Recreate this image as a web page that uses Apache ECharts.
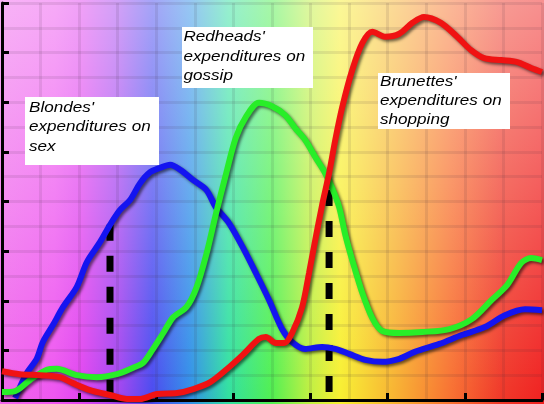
<!DOCTYPE html>
<html><head><meta charset="utf-8">
<script src="https://cdn.jsdelivr.net/npm/echarts@6/dist/echarts.min.js"></script>
<style>html,body{margin:0;padding:0;background:#fff}#c{width:544px;height:404px}</style>
</head><body><div id="c"></div>
<script>
// axis ranges (unlabelled ticks)
const xTicks = [0, 10, 20, 30, 40, 50, 60, 70];
const yTicks = [0, 10, 20, 30, 40, 50, 60, 70, 80];

// Blondes' expenditures on sex (blue)
const blondesSex = [
  [1.7,0.4],[3.2,5.4],[4.5,8.3],[5.3,11.7],[6.6,15.1],[7.9,18.7],[9.7,22.8],[11.0,27.8],
  [12.7,31.8],[14.0,35.3],[15.3,38.3],[16.6,40.3],[17.9,43.7],[19.2,45.9],[20.5,46.8],
  [21.8,47.4],[23.1,46.4],[24.8,44.3],[26.5,42.3],[27.7,38.9],[29.4,35.7],[31.2,30.8],
  [32.9,25.6],[34.6,20.2],[36.3,14.3],[37.6,11.7],[39.3,10.3],[41.5,10.7],[43.2,10.3],
  [45.0,9.3],[47.1,8.1],[49.3,7.7],[51.5,8.3],[53.5,9.7],[56.7,11.3],[59.6,13.1],
  [62.6,14.7],[65.2,17.1],[67.8,18.3],[70.0,18.1]
];
// Redheads' expenditures on gossip (green)
const redheadsGossip = [
  [0.0,1.6],[1.7,1.8],[3.6,4.0],[5.8,6.1],[7.1,6.3],[9.7,5.0],[12.3,4.6],[14.9,5.2],
  [17.0,6.5],[18.3,7.5],[19.5,10.1],[20.9,13.5],[22.2,16.7],[23.9,18.7],[25.2,22.6],
  [26.5,29.4],[27.7,37.3],[29.0,45.3],[30.3,52.8],[31.6,57.0],[33.3,59.9],[35.0,59.2],
  [36.7,57.4],[38.0,54.8],[39.3,52.4],[40.6,49.0],[41.9,45.7],[42.8,42.7],[43.7,38.9],
  [44.5,33.3],[45.4,28.2],[46.7,21.6],[48.0,16.5],[49.3,13.9],[51.5,13.5],[54.5,13.7],
  [58.0,14.3],[60.9,16.3],[63.5,20.2],[65.5,23.2],[67.3,27.6],[68.6,28.6],[70.0,28.2]
];
// Brunettes' expenditures on shopping (red)
const brunettesShopping = [
  [0.0,5.8],[2.3,5.2],[4.9,5.0],[7.5,4.6],[9.2,3.4],[11.4,2.0],[14.0,1.0],[16.2,0.2],
  [17.9,0.2],[20.1,1.2],[22.7,1.4],[24.8,2.2],[27.0,3.6],[29.2,6.3],[31.2,9.1],
  [33.3,12.3],[34.2,12.7],[35.5,11.5],[36.6,11.5],[37.6,13.5],[38.9,18.7],[39.8,25.6],
  [40.6,32.2],[41.5,39.3],[42.4,45.7],[43.2,52.4],[44.1,59.0],[45.4,66.5],[46.7,71.9],
  [48.0,74.2],[49.7,73.2],[51.5,73.8],[53.2,76.0],[54.7,77.2],[56.9,76.0],[59.0,73.2],
  [60.8,70.5],[62.5,68.9],[64.7,68.5],[66.8,68.1],[68.6,66.9],[70.0,66.1]
];
// dashed drop lines: x position and top value
const dropX = [14.0, 42.4];
const dropTop = [35.3, 42.3];

const labelTexts = [
  "Blondes'\nexpenditures on\nsex",
  "Redheads'\nexpenditures on\ngossip",
  "Brunettes'\nexpenditures on\nshopping"
];

const chart = echarts.init(document.getElementById('c'), null, {renderer: 'canvas'});

const rainbow = new echarts.graphic.LinearGradient(0, 0, 1, 0, [
  {offset: 0.00, color: '#f066ec'},
  {offset: 0.10, color: '#ee55f0'},
  {offset: 0.15, color: '#e044f0'},
  {offset: 0.22, color: '#a044f0'},
  {offset: 0.28, color: '#4a4af0'},
  {offset: 0.35, color: '#3090e8'},
  {offset: 0.42, color: '#30e0a0'},
  {offset: 0.50, color: '#50f050'},
  {offset: 0.57, color: '#c0f040'},
  {offset: 0.625, color: '#f8f030'},
  {offset: 0.73, color: '#f8b030'},
  {offset: 0.83, color: '#f87030'},
  {offset: 0.92, color: '#f03828'},
  {offset: 1.00, color: '#f02020'}
]);
const whiteWash = new echarts.graphic.LinearGradient(0, 0, 0, 1, [
  {offset: 0, color: 'rgba(255,255,255,0.5)'},
  {offset: 1, color: 'rgba(255,255,255,0.0)'}
]);

const boxes = [
  {x: 25, y: 97, w: 134, h: 68, tx: 29, ty: 98, lh: 19.5},
  {x: 182, y: 27, w: 131, h: 61, tx: 183.5, ty: 27.5, lh: 19.5},
  {x: 378, y: 73, w: 132, h: 56, tx: 380, ty: 73, lh: 18.6}
];

const gridLine = {color: 'rgba(60,40,60,0.10)', width: 3};

const curveStyle = (c) => ({
  color: c, width: 6,
  shadowColor: 'rgba(0,0,0,0.55)', shadowBlur: 3, shadowOffsetX: 2, shadowOffsetY: 2
});

const series = [];
dropX.forEach((x, i) => {
  series.push({
    type: 'line', data: [[x, dropTop[i]], [x, yTicks[0]]], symbol: 'none', silent: true, z: 1,
    lineStyle: {color: '#000', width: 7, type: [16, 15], cap: 'butt'}
  });
});
[[blondesSex, '#1414f0'], [redheadsGossip, '#28ee28'], [brunettesShopping, '#f01212']].forEach(([d, c], i) => {
  series.push({
    type: 'line', data: d, symbol: 'none', smooth: 0.3, z: 2 + i, silent: true,
    lineStyle: curveStyle(c)
  });
});

chart.setOption({
  animation: false,
  grid: {left: 2, right: 2, top: 3, bottom: 4, show: false},
  graphic: [
    {type: 'rect', z: -100, silent: true, shape: {x: 0, y: 0, width: 544, height: 404}, style: {fill: rainbow}},
    {type: 'rect', z: -99, silent: true, shape: {x: 0, y: 0, width: 544, height: 404}, style: {fill: whiteWash}},
    ...boxes.map((b, i) => ({
      type: 'group', z: 100, silent: true,
      children: [
        {type: 'rect', z: 100, shape: {x: b.x, y: b.y, width: b.w, height: b.h}, style: {fill: '#ffffff'}},
        {type: 'text', z: 101, x: b.tx, y: b.ty, scaleX: 1.14,
          style: {text: labelTexts[i], font: 'italic 15px "Liberation Sans", Arial, sans-serif',
            fill: '#000', lineHeight: b.lh, verticalAlign: 'top', align: 'left'}}
      ]
    }))
  ],
  xAxis: {
    type: 'value', min: xTicks[0], max: xTicks[xTicks.length - 1], interval: xTicks[1] - xTicks[0],
    axisLine: {show: true, onZero: false, lineStyle: {color: '#000', width: 3}},
    axisTick: {show: true, inside: true, length: 7, lineStyle: {color: '#000', width: 3}},
    axisLabel: {show: false},
    splitLine: {show: true, lineStyle: gridLine},
    minorTick: {show: false, splitNumber: 2},
    minorSplitLine: {show: true, lineStyle: gridLine}
  },
  yAxis: {
    type: 'value', min: yTicks[0], max: yTicks[yTicks.length - 1], interval: yTicks[1] - yTicks[0],
    axisLine: {show: true, onZero: false, lineStyle: {color: '#000', width: 3}},
    axisTick: {show: true, inside: true, length: 7, lineStyle: {color: '#000', width: 3}},
    axisLabel: {show: false},
    splitLine: {show: true, lineStyle: gridLine},
    minorTick: {show: false, splitNumber: 2},
    minorSplitLine: {show: true, lineStyle: gridLine}
  },
  series: series
});
</script></body></html>
